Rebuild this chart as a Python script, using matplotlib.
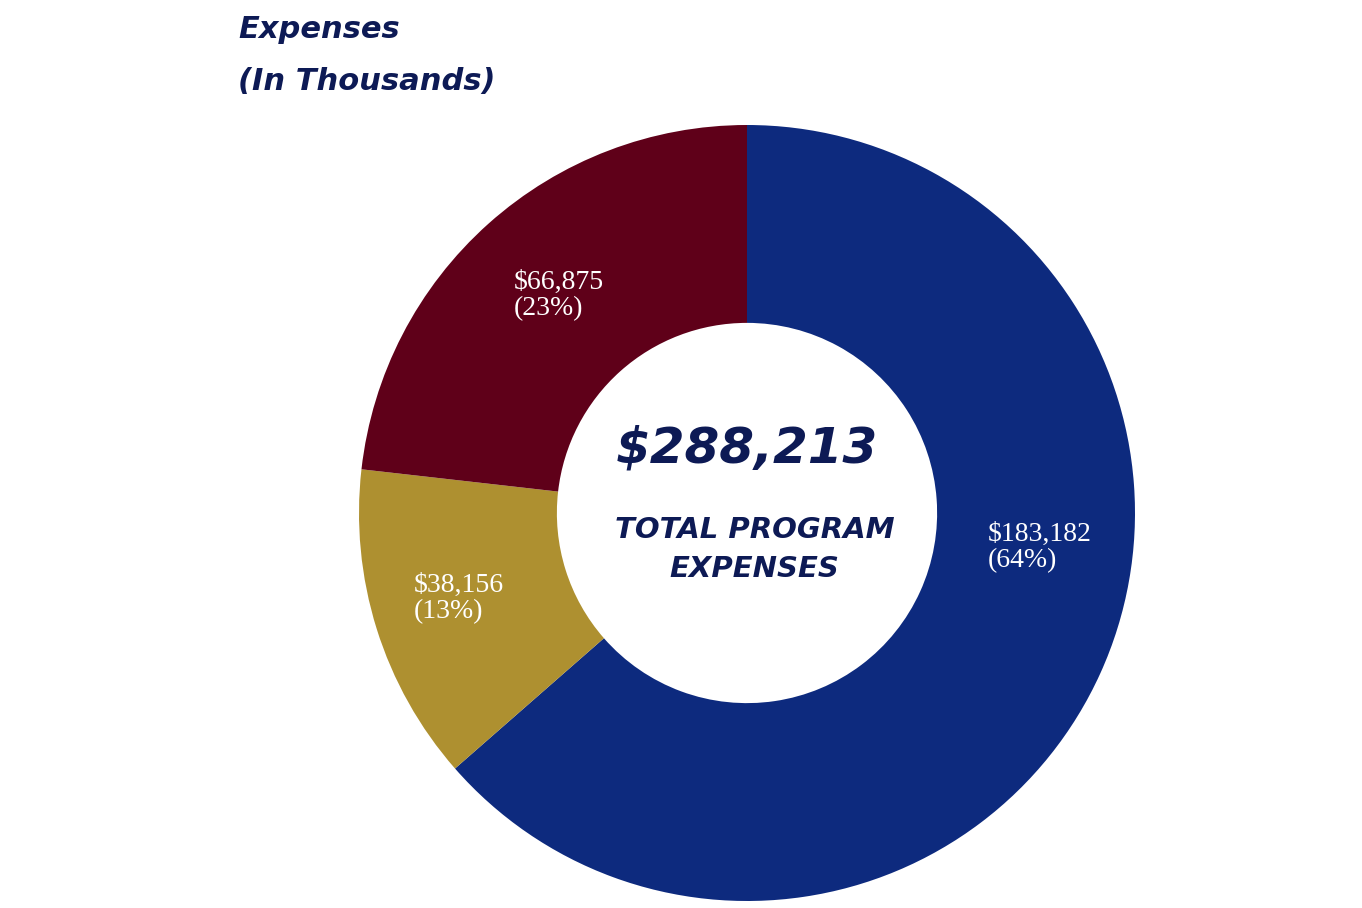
import matplotlib
matplotlib.use("Agg")
import matplotlib.pyplot as plt

labels = ["$183,182", "$38,156", "$66,875"]
values = [183182, 38156, 66875]
pcts = ["(64%)", "(13%)", "(23%)"]
colors = ["#0d2a7e", "#ae9030", "#5f0019"]
total_label = "$288,213"

W, H = 1362, 908
fig = plt.figure(figsize=(W/100, H/100), dpi=100)
cx, cy, r = 747, 513, 388
ax = fig.add_axes([(cx-r)/W, (H-cy-r)/H, 2*r/W, 2*r/H])
ax.pie(values, colors=colors, startangle=90, counterclock=False, radius=1.0,
       wedgeprops=dict(width=0.51, linewidth=0))
ax.set_xlim(-1, 1); ax.set_ylim(-1, 1); ax.set_aspect("equal"); ax.axis("off")

pos = [(0.62, -0.088), (-0.86, -0.22), (-0.60, 0.56)]
for (x, y), l, p in zip(pos, labels, pcts):
    ax.text(x, y, f"{l}\n{p}", color="white", fontsize=20, family="Liberation Serif",
            ha="left", va="center", linespacing=1.05)

navy = "#0d1a55"
ax.text(0.0, 0.165, total_label, color=navy, fontsize=36, fontweight="bold", style="italic",
        ha="center", va="center")
ax.text(0.02, -0.095, "TOTAL PROGRAM\nEXPENSES", color=navy, fontsize=21, fontweight="bold",
        style="italic", ha="center", va="center", linespacing=1.5)

fig.text(238/W, 1-30/H, "Expenses", color=navy, fontsize=22, fontweight="bold", style="italic",
         ha="left", va="center")
fig.text(238/W, 1-82/H, "(In Thousands)", color=navy, fontsize=22, fontweight="bold", style="italic",
         ha="left", va="center")
fig.savefig("out.png", dpi=100)
